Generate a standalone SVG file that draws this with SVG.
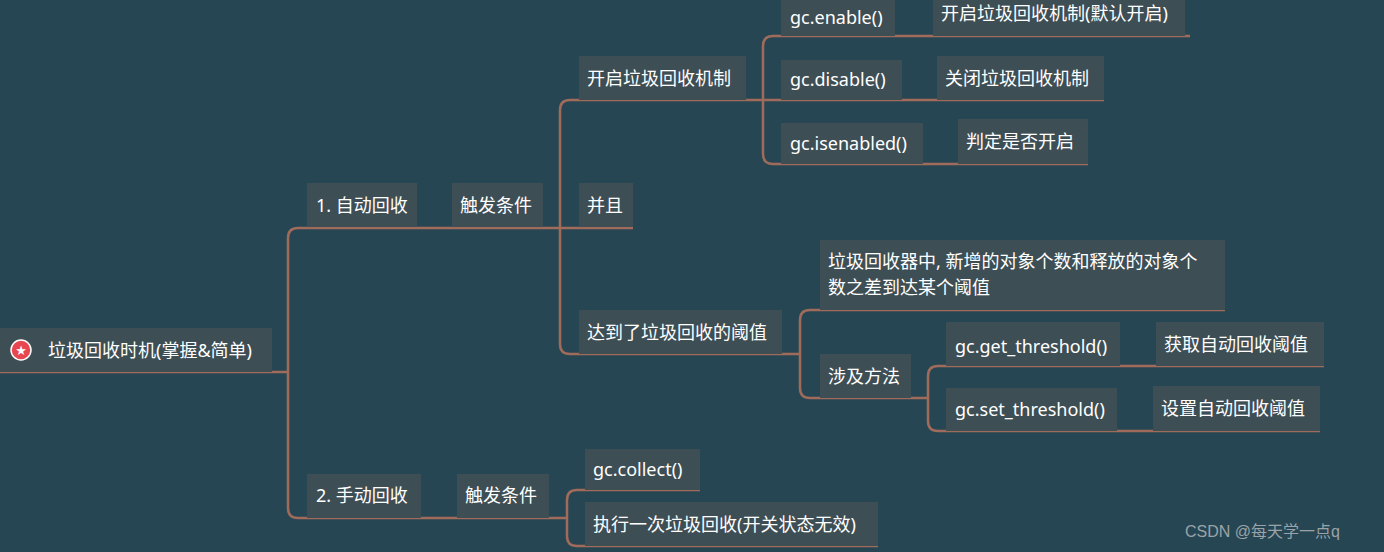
<svg xmlns="http://www.w3.org/2000/svg" width="1384" height="552" viewBox="0 0 1384 552">
<style>
.n{fill:#3e4e55}
.t{fill:#ffffff;font-family:"Noto Sans","Noto Sans CJK SC",sans-serif;font-size:18px}
.c{fill:none;stroke:#a06b5a;stroke-width:2.5}
</style>
<rect width="1384" height="552" fill="#274653"/>
<g id="connectors" class="c">
<path d="M0 372H288"/>
<path d="M288 360V238Q288 228 298 228H560"/>
<path d="M288 360V508Q288 518 298 518H567"/>
<path d="M560 228V110Q560 100 570 100H763"/>
<path d="M560 228H633"/>
<path d="M560 228V344Q560 354 570 354H800"/>
<path d="M763 100V46Q763 36 773 36H1190"/>
<path d="M763 100H1104"/>
<path d="M763 100V154Q763 164 773 164H1088"/>
<path d="M800 354V320Q800 310 810 310H1225"/>
<path d="M800 354V388Q800 398 810 398H928"/>
<path d="M928 398V376Q928 366 938 366H1324"/>
<path d="M928 398V421Q928 431 938 431H1320"/>
<path d="M567 518V500Q567 490 577 490H700"/>
<path d="M567 518V536Q567 546 577 546H878"/>
</g>
<g id="root"><rect class="n" x="0" y="328" width="272" height="44"/><circle cx="21" cy="350" r="10" fill="#e8474f" stroke="#fff" stroke-width="1.5"/><text x="21" y="355" font-size="13" fill="#fff" text-anchor="middle" font-family="DejaVu Sans,sans-serif">★</text><text class="t" x="48" y="357">垃圾回收时机(掌握&amp;简单)</text></g>
<g id="auto"><rect class="n" x="307" y="183" width="110" height="44"/><text class="t" x="316" y="212">1. 自动回收</text></g>
<g id="cond1"><rect class="n" x="452" y="183" width="91" height="44"/><text class="t" x="460" y="212">触发条件</text></g>
<g id="enableMech"><rect class="n" x="579" y="56" width="167" height="44"/><text class="t" x="587" y="85">开启垃圾回收机制</text></g>
<g id="and"><rect class="n" x="579" y="183" width="54" height="44"/><text class="t" x="587" y="212">并且</text></g>
<g id="thresh"><rect class="n" x="579" y="310" width="203" height="44"/><text class="t" x="587" y="339">达到了垃圾回收的阈值</text></g>
<g id="enable"><rect class="n" x="781" y="0" width="114" height="36"/><text class="t" x="790" y="24">gc.enable()</text></g>
<g id="enableD"><rect class="n" x="933" y="0" width="252" height="36"/><text class="t" x="941" y="20">开启垃圾回收机制(默认开启)</text></g>
<g id="disable"><rect class="n" x="781" y="60" width="121" height="40"/><text class="t" x="790" y="86">gc.disable()</text></g>
<g id="disableD"><rect class="n" x="937" y="56" width="167" height="44"/><text class="t" x="945" y="85">关闭垃圾回收机制</text></g>
<g id="isen"><rect class="n" x="781" y="123" width="142" height="41"/><text class="t" x="790" y="150">gc.isenabled()</text></g>
<g id="isenD"><rect class="n" x="958" y="119" width="130" height="45"/><text class="t" x="966" y="148">判定是否开启</text></g>
<g id="desc"><rect class="n" x="820" y="240" width="405" height="70"/><text class="t" x="828" y="268">垃圾回收器中, 新增的对象个数和释放的对象个</text><text class="t" x="828" y="294">数之差到达某个阈值</text></g>
<g id="methods"><rect class="n" x="820" y="354" width="91" height="44"/><text class="t" x="828" y="383">涉及方法</text></g>
<g id="get"><rect class="n" x="946" y="322" width="174" height="44"/><text class="t" x="955" y="353">gc.get_threshold()</text></g>
<g id="getD"><rect class="n" x="1156" y="322" width="168" height="44"/><text class="t" x="1164" y="351">获取自动回收阈值</text></g>
<g id="set"><rect class="n" x="946" y="388" width="171" height="43"/><text class="t" x="955" y="416">gc.set_threshold()</text></g>
<g id="setD"><rect class="n" x="1153" y="386" width="167" height="45"/><text class="t" x="1161" y="415">设置自动回收阈值</text></g>
<g id="manual"><rect class="n" x="307" y="474" width="114" height="44"/><text class="t" x="316" y="502">2. 手动回收</text></g>
<g id="cond2"><rect class="n" x="457" y="474" width="92" height="44"/><text class="t" x="465" y="502">触发条件</text></g>
<g id="collect"><rect class="n" x="585" y="449" width="115" height="41"/><text class="t" x="593" y="476">gc.collect()</text></g>
<g id="collectD"><rect class="n" x="585" y="502" width="293" height="44"/><text class="t" x="593" y="531">执行一次垃圾回收(开关状态无效)</text></g>
<text x="1185" y="537" font-size="16" fill="#9aa3a8" font-family="Liberation Sans,Noto Sans CJK SC,sans-serif">CSDN @每天学一点q</text>
</svg>
